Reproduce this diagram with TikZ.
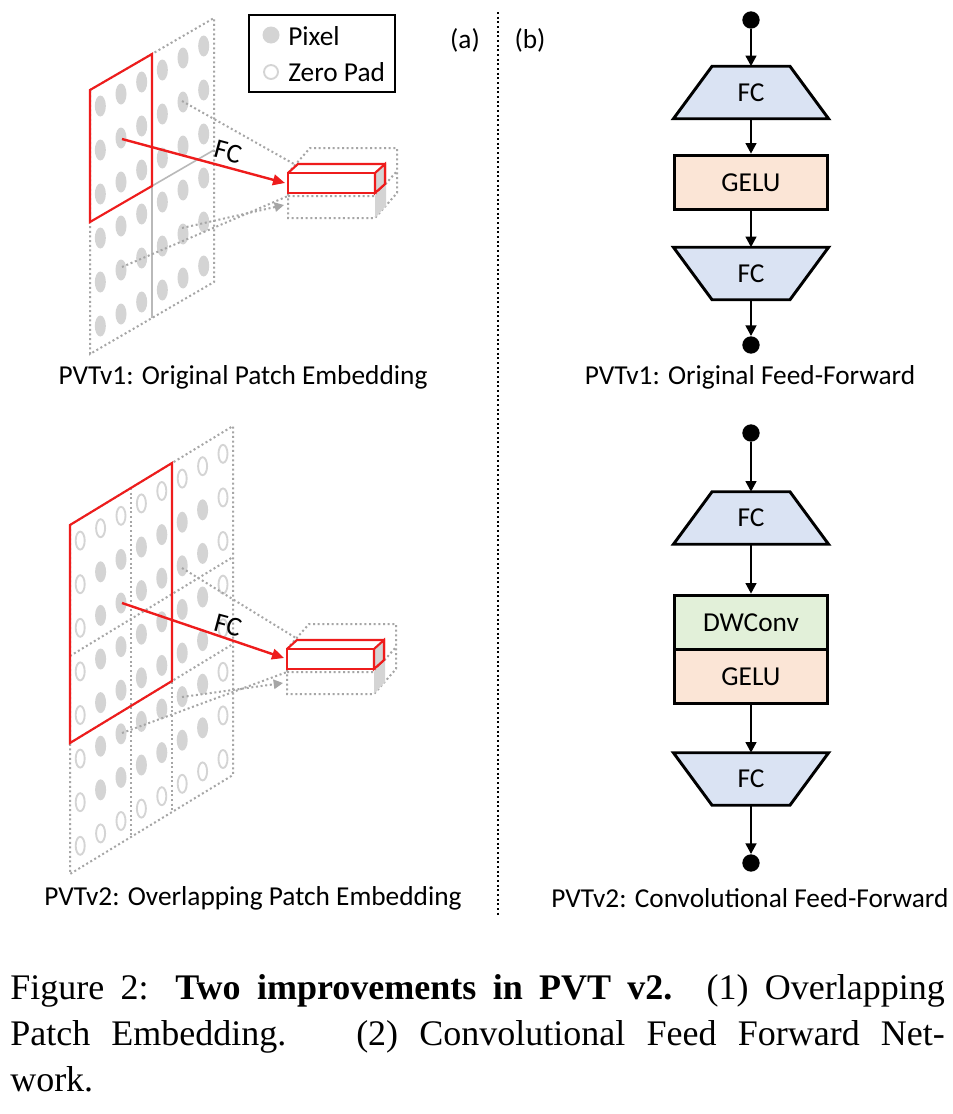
\documentclass[tikz,border=0pt]{standalone}
\usepackage{fontspec}
\setmainfont{Liberation Serif}
\newfontfamily\calfont{Carlito}
\usetikzlibrary{arrows.meta}
\definecolor{fcblue}{HTML}{DAE3F3}
\definecolor{gelu}{HTML}{FBE5D6}
\definecolor{dwc}{HTML}{E2F0D9}
\definecolor{pix}{HTML}{D4D4D4}
\definecolor{redline}{HTML}{EE1C1C}
\tikzset{
  lbl/.style={font=\calfont\fontsize{20.5}{24}\selectfont,inner sep=0pt},
  pixel/.style={fill=pix,draw=none},
  zpad/.style={draw=pix,line width=1.4pt,fill=none},
  gdot/.style={draw=gray!70,dotted,line width=1.5pt},
  gsolid/.style={draw=gray!55,line width=1.2pt},
  redp/.style={draw=redline,line width=1.6pt},
  darr/.style={gdot,-{Triangle[length=7pt,width=7pt]}},
  rarr/.style={draw=redline,line width=1.8pt,-{Triangle[length=9pt,width=8pt]}},
  blk/.style={draw=black,line width=2.2pt},
  flow/.style={draw=black,line width=1.8pt,-{Triangle[length=8pt,width=8pt]}},
  tbox/.style={minimum width=116pt,minimum height=39pt,inner sep=0pt,lbl},
  rbox/.style={blk,minimum width=115pt,minimum height=41pt,inner sep=0pt,lbl},
  term/.style={circle,fill=black,minimum size=13pt,inner sep=0pt},
}
% trapezium around a node: #1 node name, #2 = 1 narrow top, -1 narrow bottom
\newcommand\trapup[1]{\draw[blk,fill=fcblue] (#1.south west) -- (#1.south east)
  -- ([xshift=-29pt]#1.north east) -- ([xshift=29pt]#1.north west) -- cycle;}
\newcommand\trapdown[1]{\draw[blk,fill=fcblue] (#1.north west) -- (#1.north east)
  -- ([xshift=-29pt]#1.south east) -- ([xshift=29pt]#1.south west) -- cycle;}
\begin{document}
\begin{tikzpicture}[x=0.75pt,y=-0.75pt]
\path[use as bounding box,fill=white] (0,0) rectangle (953,1114);

% ---------- (a) top: PVTv1 patch embedding ----------
\foreach \i in {0,...,5}{\foreach \j in {0,...,5}{
  \pgfmathsetmacro\px{90+(\i+0.5)*20.67}
  \pgfmathsetmacro\py{90-(\i+0.5)*12+(\j+0.5)*44}
  \fill[pixel] (\px,\py) ellipse [x radius=5.5,y radius=10.5];
}}
\draw[gdot] (90,90) -- (214,18) -- (214,282) -- (90,354) -- cycle;
\draw[gsolid] (152,54) -- (152,318);
\draw[gsolid] (152,186) -- (214,150);
\draw[redp] (90,90) -- (152,54) -- (152,186) -- (90,222) -- cycle;
% output token
\draw[gdot] (288,173) -- (310,148) -- (397,148) -- (397,193) -- (375,218) -- (288,218) -- cycle;
\draw[gdot] (288,196) -- (375,196) -- (397,171);
\fill[pix] (375,196) -- (386,184) -- (386,206) -- (375,218) -- cycle;
\draw[redp,fill=white] (288,173) rectangle (375,193);
\draw[redp] (288,173) -- (298,164) -- (385,164) -- (385,184) -- (375,193);
\draw[redp,fill=pix] (375,173) -- (385,164) -- (385,184) -- (375,193) -- cycle;
\coordinate (s1) at (122,139); \coordinate (t1) at (285,183);
\coordinate (s2) at (182,101); \coordinate (t2) at (294,164);
\coordinate (s3) at (182,228); \coordinate (t3) at (284,205);
\coordinate (s4) at (122,267); \coordinate (t4) at (288,196);
\draw[gdot] (s2) -- (t2);
\draw[darr] (s3) -- (t3);
\draw[gdot] (s4) -- (t4);
\draw[rarr] (s1) -- (t1);
\node[lbl,rotate=-15] (fc1) at (228,152) {FC};
% legend
\draw[line width=1.6pt] (249,15) rectangle (395,92);
\fill[pix] (271,35) circle (8.5);
\node[lbl,anchor=west] (lp) at (288,36) {Pixel};
\draw[zpad] (271,72) circle (7);
\node[lbl,anchor=west] (lz) at (288,72) {Zero Pad};
\node[lbl] (capa1) at (243,377) {PVTv1: Original Patch Embedding};

% ---------- (a) bottom: PVTv2 overlapping patch embedding ----------
\foreach \i in {0,...,7}{\foreach \j in {0,...,7}{
  \pgfmathsetmacro\px{70+(\i+0.5)*20.4}
  \pgfmathsetmacro\py{525-(\i+0.5)*12.4+(\j+0.5)*43.6}
  \pgfmathtruncatemacro\edge{(\i==0)||(\i==7)||(\j==0)||(\j==7)}
  \ifnum\edge=1
    \draw[zpad] (\px,\py) ellipse [x radius=4.5,y radius=9];
  \else
    \fill[pixel] (\px,\py) ellipse [x radius=5.5,y radius=10.5];
  \fi
}}
\draw[gdot] (70,525) -- (233,426) -- (233,775) -- (70,874) -- cycle;
\draw[gdot] (131,488) -- (131,837);
\draw[gdot] (172,463) -- (172,812);
\draw[gdot] (70,656) -- (233,557);
\draw[gdot] (70,743) -- (233,644);
\draw[redp] (70,525) -- (172,463) -- (172,681) -- (70,743) -- cycle;
\begin{scope}[yshift=-476*0.75pt,xshift=-0.75pt]
\draw[gdot] (288,173) -- (310,148) -- (397,148) -- (397,193) -- (375,218) -- (288,218) -- cycle;
\draw[gdot] (288,196) -- (375,196) -- (397,171);
\fill[pix] (375,196) -- (386,184) -- (386,206) -- (375,218) -- cycle;
\draw[redp,fill=white] (288,173) rectangle (375,193);
\draw[redp] (288,173) -- (298,164) -- (385,164) -- (385,184) -- (375,193);
\draw[redp,fill=pix] (375,173) -- (385,164) -- (385,184) -- (375,193) -- cycle;
\end{scope}
\coordinate (u1) at (122,603); \coordinate (v1) at (284,658);
\coordinate (u2) at (182,568); \coordinate (v2) at (296,638);
\coordinate (u3) at (182,697); \coordinate (v3) at (283,683);
\coordinate (u4) at (122,733); \coordinate (v4) at (287,672);
\draw[gdot] (u2) -- (v2);
\draw[darr] (u3) -- (v3);
\draw[gdot] (u4) -- (v4);
\draw[rarr] (u1) -- (v1);
\node[lbl,rotate=-15] (fc2) at (228,625) {FC};
\node[lbl] (capa2) at (253,898) {PVTv2: Overlapping Patch Embedding};

% ---------- divider and panel tags ----------
\draw[dotted,line width=1.5pt] (498,12) -- (498,915);
\node[lbl] (ta) at (465,40) {(a)};
\node[lbl] (tb) at (530,40) {(b)};

% ---------- (b) top: feed-forward ----------
\node[term] (i1) at (751,20) {};
\node[tbox] (f1) at (751,92.5) {};
\node[rbox,fill=gelu] (g1) at (751,182.5) {GELU};
\node[tbox] (f2) at (751,273.5) {};
\node[term] (o1) at (751,345) {};
\trapup{f1} \trapdown{f2}
\node[lbl] at (f1) {FC};
\node[lbl] at (f2) {FC};
\draw[flow] (i1) -- (f1);
\draw[flow] (f1) -- (g1);
\draw[flow] (g1) -- (f2);
\draw[flow] (f2) -- (o1);
\node[lbl] (capb1) at (750,377) {PVTv1: Original Feed-Forward};

% ---------- (b) bottom: convolutional feed-forward ----------
\node[term] (i2) at (751,433) {};
\node[tbox] (f3) at (751,518) {};
\node[rbox,fill=dwc] (d2) at (751,622.5) {DWConv};
\node[rbox,fill=gelu] (g2) at (751,676.5) {GELU};
\node[tbox] (f4) at (751,779) {};
\node[term] (o2) at (751,863) {};
\trapup{f3} \trapdown{f4}
\node[lbl] at (f3) {FC};
\node[lbl] at (f4) {FC};
\draw[flow] (i2) -- (f3);
\draw[flow] (f3) -- (d2);
\draw[flow] (g2) -- (f4);
\draw[flow] (f4) -- (o2);
\node[lbl] (capb2) at (750,898) {PVTv2: Convolutional Feed-Forward};

% ---------- figure caption ----------
\node[anchor=north west,inner sep=0pt,text width=701pt,align=justify,
  font=\fontsize{27}{34.5}\selectfont] (cap) at (10,974)
  {Figure 2: \textbf{Two improvements in PVT v2.} (1) Overlapping\linebreak
   Patch Embedding. \ (2) Convolutional Feed Forward Net-\linebreak work.};
\end{tikzpicture}
\end{document}
